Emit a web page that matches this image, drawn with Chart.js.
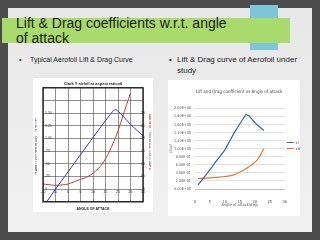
<!DOCTYPE html>
<html>
<head>
<meta charset="utf-8">
<script src="https://cdn.jsdelivr.net/npm/chart.js@4.4.1/dist/chart.umd.min.js"></script>
<style>
html, body { margin: 0; padding: 0; width: 320px; height: 240px; overflow: hidden; background: #4b4b4b; font-family: "Liberation Sans", Arial, sans-serif; }
#slide { position: absolute; left: 8px; top: 8px; width: 304px; height: 224px; background: linear-gradient(#e7e7e7, #f1f1f1); }
#bluebox { position: absolute; left: 250px; top: 5px; width: 28px; height: 45px; background: #7dc6da; }
#greenbar { position: absolute; left: 2px; top: 18px; width: 288px; height: 25px; background: #a9da6c; }
#title { position: absolute; left: 16px; top: 16px; font-size: 14px; line-height: 15px; color: #1d1d1d; white-space: nowrap; }
.bul { position: absolute; color: #222; white-space: nowrap; }
.box { position: absolute; background: #fff; }
canvas { position: absolute; }
</style>
</head>
<body>
<div id="slide"></div>
<div id="bluebox"></div>
<div id="greenbar"></div>
<div id="title">Lift &amp; Drag coefficients w.r.t. angle<br>of attack</div>

<div class="bul" style="left:19px;top:56px;font-size:7px;">•</div>
<div class="bul" style="left:30px;top:56px;font-size:7px;">Typical Aerofoil Lift &amp; Drag Curve</div>
<div class="bul" style="left:169px;top:55px;font-size:8px;">•</div>
<div class="bul" style="left:177px;top:55px;font-size:8px;line-height:10.5px;">Lift &amp; Drag curve of Aerofoil under<br>study</div>

<div class="box" style="left:33px;top:78px;width:120px;height:134px;"></div>
<div class="box" style="left:168px;top:80px;width:132px;height:136px;"></div>

<canvas id="clark" width="120" height="134" style="left:33px;top:78px;"></canvas>
<canvas id="study" width="142" height="134" style="left:168px;top:82px;"></canvas>

<script>
// typical Clark Y curve (left picture)
const angleMin = -10, angleMax = 30;
const liftAngle = [-8.5, -5, 0, 5, 10, 15, 18, 19, 20, 22, 25, 30];
const liftCoef  = [-0.25, 0, 0.34, 0.68, 1.02, 1.35, 1.54, 1.57, 1.54, 1.44, 1.28, 1.05];
const dragAngle = [-10, -8, -5, -2, 0, 4, 8, 12, 15, 18, 20, 22, 24, 25];
const dragCoef  = [0.02, 0.018, 0.015, 0.017, 0.02, 0.035, 0.05, 0.08, 0.12, 0.18, 0.23, 0.29, 0.35, 0.38];

// aerofoil under study (right picture)
const studyAngle = [1, 4, 7, 10, 13, 15, 17, 18, 20, 21, 23];
const studyCl    = [0.1, 0.38, 0.68, 0.97, 1.38, 1.62, 1.85, 1.82, 1.65, 1.58, 1.45];
const studyCd    = [0.26, 0.27, 0.29, 0.31, 0.35, 0.42, 0.5, 0.55, 0.66, 0.74, 1.0];

function pts(xs, ys) {
  return xs.map((x, i) => ({ x: x, y: ys[i] }));
}

// old style axis text, one letter under the other
function stackText(ctx, text, x, y0, step, color) {
  ctx.save();
  ctx.fillStyle = color;
  ctx.font = 'bold 3px "Liberation Sans"';
  ctx.textAlign = 'center';
  ctx.textBaseline = 'middle';
  for (let i = 0; i < text.length; i++) {
    ctx.fillText(text[i], x, y0 + i * step);
  }
  ctx.restore();
}

const framePlugin = {
  id: 'frame',
  afterDraw(chart) {
    const a = chart.chartArea, ctx = chart.ctx;
    ctx.save();
    ctx.strokeStyle = '#222';
    ctx.lineWidth = 1.4;
    ctx.strokeRect(a.left, a.top, a.right - a.left, a.bottom - a.top);
    ctx.restore();
    stackText(ctx, 'LIFT COEFFICIENT', 3, 42, 3.6, '#4a4aa8');
    stackText(ctx, 'DRAG COEFFICIENT', 117, 38, 3.6, '#b84545');
  }
};

function liftLabel(v) {
  v = Math.round(v * 100) / 100;
  if (v < 0 || v > 1.5) return '';
  if (v === 0) return '0';
  return v >= 1 ? v.toFixed(2) : v.toFixed(2).replace(/^0/, '');
}
function dragLabel(v) {
  v = Math.round(v * 100) / 100;
  if (v < 0 || v > 0.3) return '';
  if (v === 0) return '0';
  return v.toFixed(2).replace(/^0/, '');
}

new Chart(document.getElementById('clark'), {
  type: 'line',
  data: {
    datasets: [
      { data: pts(liftAngle, liftCoef), borderColor: '#3c3c9c', borderWidth: 1, pointRadius: 0, tension: 0.3, yAxisID: 'y' },
      { data: pts(dragAngle, dragCoef), borderColor: '#b84040', borderWidth: 1, pointRadius: 0, tension: 0.4, yAxisID: 'y1' }
    ]
  },
  options: {
    responsive: false,
    animation: false,
    layout: { padding: { bottom: 1 } },
    plugins: {
      legend: { display: false },
      tooltip: { enabled: false },
      title: { display: true, text: 'Clark Y airfoil at aspect ratio=6', color: '#222',
               font: { size: 4, weight: 'bold', family: 'Liberation Sans' }, padding: { top: 3, bottom: 2 } },
      subtitle: { display: true, position: 'bottom', text: 'ANGLE OF ATTACK', color: '#222',
                  font: { size: 3.5, weight: 'bold', family: 'Liberation Sans' }, padding: { top: 5, bottom: 0 } }
    },
    scales: {
      x: {
        type: 'linear', position: { y: 0 }, min: angleMin, max: angleMax,
        ticks: { stepSize: 5, padding: 1, color: '#333', font: { size: 3.5, family: 'Liberation Sans' } },
        grid: { color: '#444', lineWidth: 0.6, drawTicks: false },
        border: { display: false }
      },
      y: {
        position: 'left', min: -0.25, max: 2,
        ticks: { stepSize: 0.25, mirror: true, padding: 2, color: '#333', font: { size: 3.5, family: 'Liberation Sans' }, callback: liftLabel },
        grid: { color: '#444', lineWidth: 0.6, drawTicks: false },
        border: { display: false },
        afterFit(s) { s.width = 10; }
      },
      y1: {
        position: 'right', min: -0.05, max: 0.4,
        ticks: { stepSize: 0.05, mirror: true, padding: 2, color: '#333', font: { size: 3.5, family: 'Liberation Sans' }, callback: dragLabel },
        grid: { display: false },
        border: { display: false },
        afterFit(s) { s.width = 10; }
      }
    }
  },
  plugins: [framePlugin]
});

function excelNum(v) {
  const parts = v.toExponential(2).split('e');
  const e = parseInt(parts[1], 10);
  return parts[0] + 'E' + (e < 0 ? '-' : '+') + String(Math.abs(e)).padStart(2, '0');
}

const narrow = '"Liberation Sans Narrow", "DejaVu Sans Condensed", sans-serif';

new Chart(document.getElementById('study'), {
  type: 'line',
  data: {
    datasets: [
      { label: 'cl', data: pts(studyAngle, studyCl), borderColor: '#3d6891', backgroundColor: '#3d6891', borderWidth: 1.2, pointRadius: 0, tension: 0 },
      { label: 'cd', data: pts(studyAngle, studyCd), borderColor: '#e2783a', backgroundColor: '#e2783a', borderWidth: 1.2, pointRadius: 0, cubicInterpolationMode: 'monotone' }
    ]
  },
  options: {
    responsive: false,
    animation: false,
    layout: { padding: { bottom: 7 } },
    plugins: {
      tooltip: { enabled: false },
      title: { display: true, text: 'Lift and Drag coefficient vs Angle of attack', color: '#444',
               font: { size: 4.5, weight: 'normal', family: narrow }, padding: { top: 7, bottom: 14 } },
      legend: {
        position: 'right',
        labels: { usePointStyle: true, pointStyle: 'line', pointStyleWidth: 7, padding: 2, color: '#444',
                  font: { size: 4, family: narrow } }
      }
    },
    scales: {
      x: {
        type: 'linear', min: 0, max: 30,
        ticks: { stepSize: 5, padding: 3, color: '#555', font: { size: 4, family: narrow } },
        grid: { display: false },
        border: { color: '#bfbfbf' },
        title: { display: true, text: 'Angle of attack(deg)', color: '#555', font: { size: 4, family: narrow }, padding: 2 },
        afterFit(s) { s.height = 20; }
      },
      y: {
        min: 0, max: 2,
        ticks: { stepSize: 0.2, padding: 4, color: '#555', font: { size: 3.8, family: narrow }, callback: excelNum },
        grid: { color: '#d9d9d9', lineWidth: 0.8, drawTicks: false },
        border: { display: false },
        title: { display: true, text: 'cl/cd', color: '#555', font: { size: 4, family: narrow }, padding: 1 },
        afterFit(s) { s.width = 27; }
      }
    }
  }
});
</script>
</body>
</html>
